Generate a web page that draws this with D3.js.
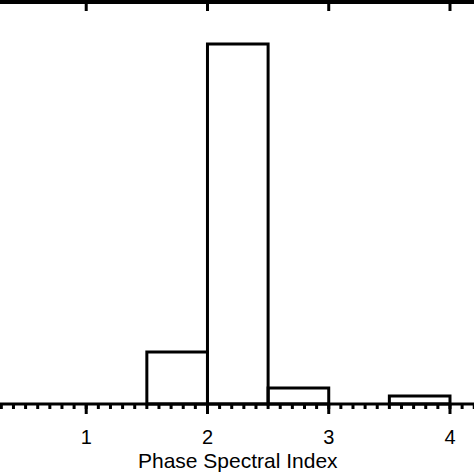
<!DOCTYPE html>
<meta charset="utf-8">
<style>
  body { margin: 0; background: #fff; }
  text { font-family: "Liberation Sans", Arial, sans-serif; fill: #000; }
</style>
<body>
<script src="https://d3js.org/d3.v7.min.js"></script>
<script>
  // histogram bins (lower edge, upper edge) and counts
  var binLo = [1.5, 2.0, 2.5, 3.5];
  var binHi = [2.0, 2.5, 3.0, 4.0];
  var counts = [6.5, 45, 2, 1];
  var majorTicks = [1, 2, 3, 4];
  var xLabel = "Phase Spectral Index";

  var W = 474, H = 474;
  var svg = d3.select("body").append("svg").attr("width", W).attr("height", H);

  var x = d3.scaleLinear().domain([0.289, 4.198]).range([0, 474]);
  var y = d3.scaleLinear().domain([0, 50]).range([404, 4]);

  // bars
  svg.selectAll(".bar").data(counts).enter().append("rect")
    .attr("x", function (d, i) { return x(binLo[i]); })
    .attr("y", function (d) { return y(d); })
    .attr("width", function (d, i) { return x(binHi[i]) - x(binLo[i]); })
    .attr("height", function (d) { return y(0) - y(d); })
    .attr("fill", "none").attr("stroke", "#000").attr("stroke-width", 3);

  // bottom axis
  var minor = d3.range(2, 43).map(function (d) { return d / 10; });
  var bottom = svg.append("g").attr("transform", "translate(0," + y(0) + ")");
  bottom.append("line").attr("x1", 0).attr("x2", W).attr("stroke", "#000").attr("stroke-width", 3);
  bottom.selectAll(".mn").data(minor).enter().append("line")
    .attr("x1", x).attr("x2", x).attr("y1", 0).attr("y2", 5)
    .attr("stroke", "#000").attr("stroke-width", 3);
  bottom.selectAll(".mj").data(majorTicks).enter().append("line")
    .attr("x1", x).attr("x2", x).attr("y1", 0).attr("y2", 10)
    .attr("stroke", "#000").attr("stroke-width", 3);
  bottom.selectAll(".lb").data(majorTicks).enter().append("text")
    .attr("x", x).attr("y", 40).attr("text-anchor", "middle")
    .style("font-size", "20px").text(function (d) { return d; });

  svg.append("text").attr("x", x(2.25)).attr("y", 468).attr("text-anchor", "middle")
    .style("font-size", "21px").text(xLabel);

  // top axis
  var topAxis = svg.append("g").attr("transform", "translate(0,2)");
  topAxis.append("line").attr("x1", 0).attr("x2", W).attr("stroke", "#000").attr("stroke-width", 4);
  topAxis.selectAll(".mj").data(majorTicks).enter().append("line")
    .attr("x1", x).attr("x2", x).attr("y1", 0).attr("y2", 9)
    .attr("stroke", "#000").attr("stroke-width", 3);
</script>
</body>
